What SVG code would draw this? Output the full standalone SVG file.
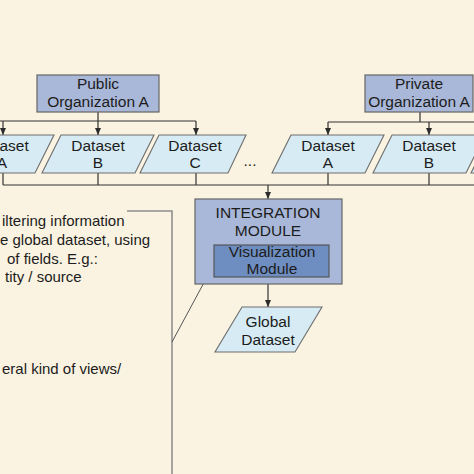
<svg xmlns="http://www.w3.org/2000/svg" width="474" height="474" viewBox="0 0 474 474">
<defs>
<marker id="arr" markerWidth="8" markerHeight="8" refX="7" refY="4" orient="auto" markerUnits="userSpaceOnUse">
<path d="M0,1 L7,4 L0,7 Z" fill="#2b2b2b"/>
</marker>
<style>
text{font-family:"Liberation Sans",Arial,sans-serif;font-size:15.5px;fill:#1c1c1c;text-anchor:middle}
.lt{text-anchor:start;font-size:15px}
.org{fill:#A9B8D8;stroke:#666;stroke-width:1.2}
.ds{fill:#D6EBF3;stroke:#6e6e6e;stroke-width:1.1}
.con{fill:none;stroke:#333;stroke-width:1.2}
.ar{marker-end:url(#arr)}
</style>
</defs>
<rect x="0" y="0" width="474" height="474" fill="#FAF3E1"/>

<g id="connectors">
<path class="con" d="M98,112 V121 M0,121 H196 M420,112 V122 M328,122 H474"/>
<path class="con ar" d="M3,121 V135"/>
<path class="con ar" d="M98,121 V135"/>
<path class="con ar" d="M196,121 V135"/>
<path class="con ar" d="M328,122 V135"/>
<path class="con ar" d="M429,122 V135"/>
<path class="con" d="M3,173 V185 M98,173 V185 M196,173 V185 M328,173 V185 M429,173 V185 M3,185 H474"/>
<path class="con ar" d="M268,185 V199"/>
<path class="con ar" d="M268,284 V307"/>
<path fill="none" stroke="#8f8f8f" stroke-width="1.6" d="M127,211 H172 V474"/>
<path fill="none" stroke="#555" stroke-width="1" d="M214,264 L172,342"/>
</g>

<g id="public-org-a">
<rect class="org" x="37" y="75" width="122" height="37"/>
<text x="98" y="89">Public</text>
<text x="98" y="107">Organization A</text>
</g>

<g id="private-org-a">
<rect class="org" x="365" y="75" width="108" height="37"/>
<text x="419" y="89">Private</text>
<text x="419" y="107">Organization A</text>
</g>

<g id="pub-dataset-a">
<polygon class="ds" points="-39,135 54,135 35,173 -58,173"/>
<text x="2" y="151">Dataset</text>
<text x="2" y="168">A</text>
</g>
<g id="pub-dataset-b">
<polygon class="ds" points="61,135 154,135 135,173 42,173"/>
<text x="98" y="151">Dataset</text>
<text x="98" y="168">B</text>
</g>
<g id="pub-dataset-c">
<polygon class="ds" points="159,135 246,135 228,173 140,173"/>
<text x="195" y="151">Dataset</text>
<text x="195" y="168">C</text>
</g>
<g id="ellipsis">
<text x="250" y="166">...</text>
</g>
<g id="priv-dataset-a">
<polygon class="ds" points="291,135 384,135 365,173 272,173"/>
<text x="328" y="151">Dataset</text>
<text x="328" y="168">A</text>
</g>
<g id="priv-dataset-b">
<polygon class="ds" points="392,135 485,135 466,173 373,173"/>
<text x="429" y="151">Dataset</text>
<text x="429" y="168">B</text>
</g>
<g id="priv-dataset-c">
<polygon class="ds" points="490,135 583,135 564,173 471,173"/>
</g>

<g id="integration-module">
<rect class="org" x="195" y="199" width="147" height="85" fill="#AABAD9"/>
<text x="268" y="218">INTEGRATION</text>
<text x="268" y="236">MODULE</text>
</g>
<g id="visualization-module">
<rect x="214" y="245" width="115" height="32" fill="#6E8DC0" stroke="#4f4f4f" stroke-width="1.1"/>
<text x="272" y="257">Visualization</text>
<text x="272" y="274">Module</text>
</g>

<g id="global-dataset">
<polygon class="ds" points="242,307 322,307 295,352 215,352"/>
<text x="268" y="327">Global</text>
<text x="268" y="345">Dataset</text>
</g>

<g id="note">
<text class="lt" x="2" y="226">iltering information</text>
<text class="lt" x="0" y="245">e global dataset, using</text>
<text class="lt" x="7" y="264">of fields. E.g.:</text>
<text class="lt" x="5" y="282">tity / source</text>
<text class="lt" x="2" y="374">eral kind of views/</text>
</g>
</svg>
